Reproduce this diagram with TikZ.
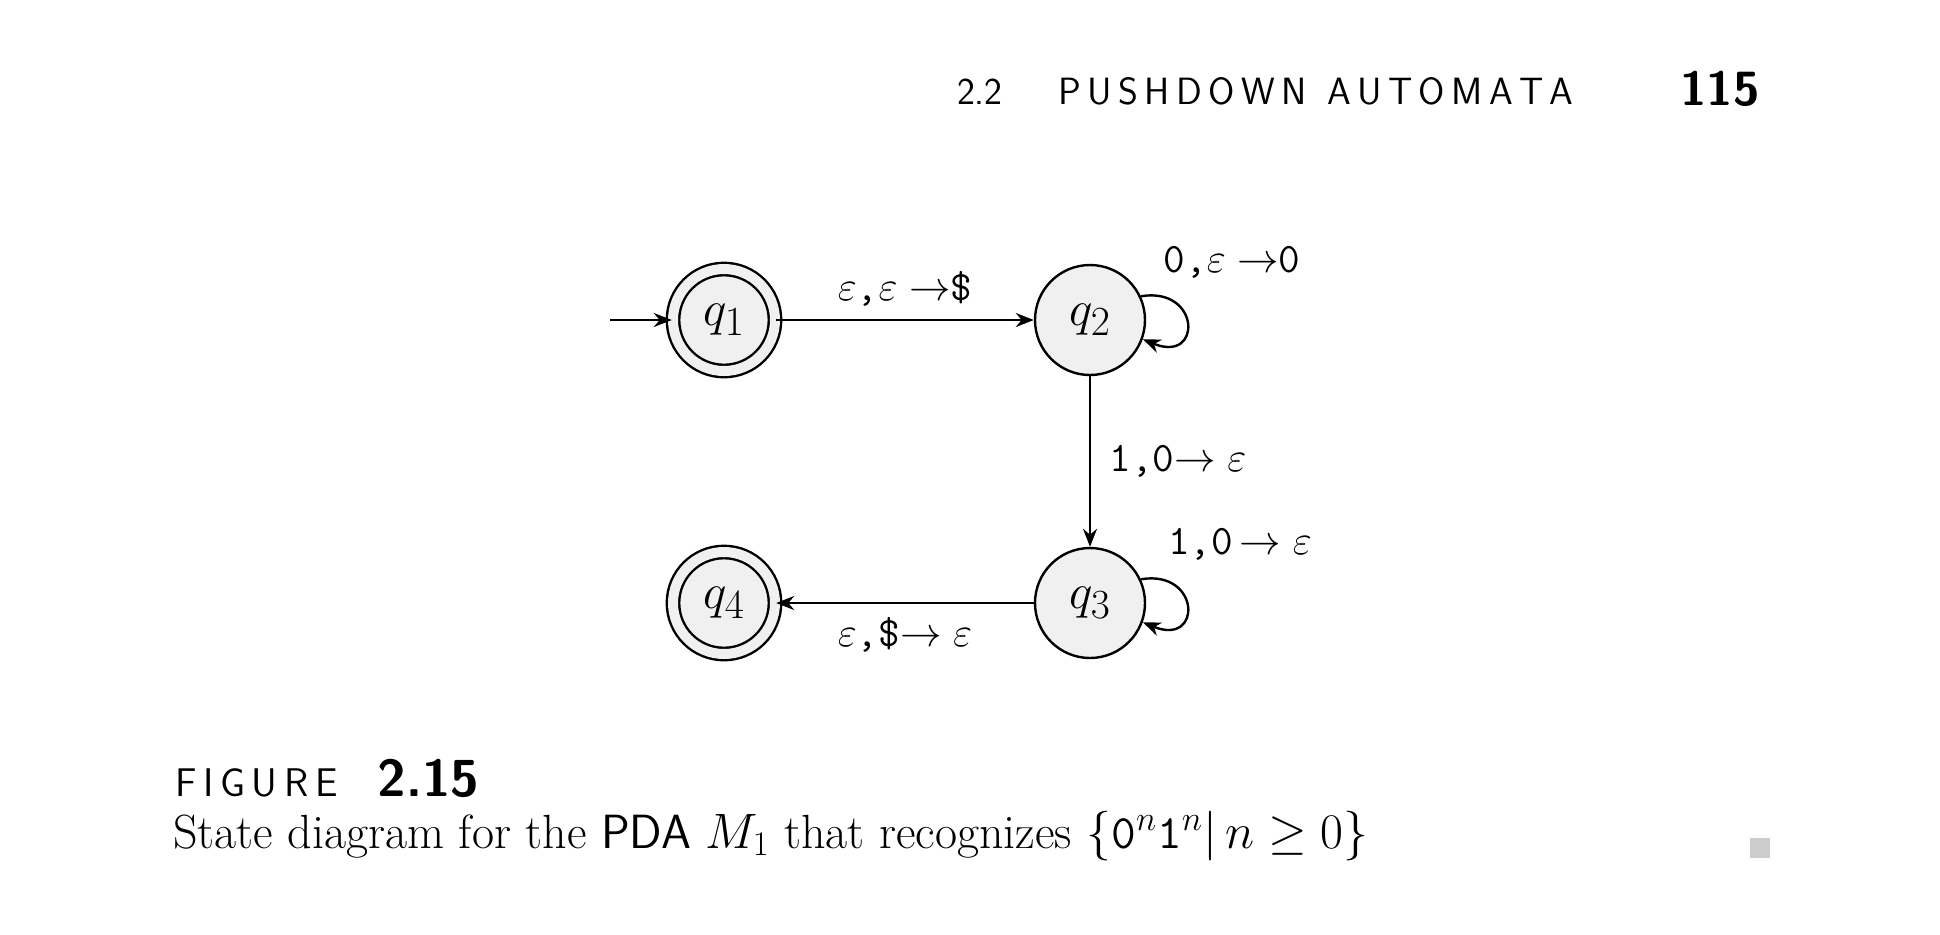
\documentclass[tikz,border=0pt]{standalone}
\usepackage{amssymb}
\usetikzlibrary{arrows.meta}
\begin{document}
\begin{tikzpicture}[x=0.5pt,y=-0.5pt,
  st/.style={circle,draw,line width=1.2pt,fill=black!6,minimum size=110*0.5pt,inner sep=0pt,font=\fontsize{28}{30}\selectfont},
  acc/.style={st,double=black!6,double distance=5pt,minimum size=102*0.5pt},
  ed/.style={-{Stealth[length=9pt,width=7pt]},line width=1.2pt},
  lb/.style={font=\fontsize{21}{23}\selectfont\ttfamily}]
\useasboundingbox (0,0) rectangle (1940,934);
\node[anchor=west,font=\fontsize{19}{21}\selectfont\sffamily] (h) at (950,91) {2.2\hspace{28pt}P\,U\,S\,H\,D\,O\,W\,N\;\;A\,U\,T\,O\,M\,A\,T\,A};
\node[font=\fontsize{24}{26}\selectfont\sffamily\bfseries] (pg) at (1720,89) {115};
\node[acc] (q1) at (724,320) {$q_1$};
\node[st] (q2) at (1090,320) {$q_2$};
\node[st] (q3) at (1090,603) {$q_3$};
\node[acc] (q4) at (724,603) {$q_4$};
\coordinate (s) at (610,320);
\draw[ed] (s) -- (q1);
\draw[ed] (q1) -- node[lb,above=3pt]{$\varepsilon$,$\varepsilon\rightarrow$\$} (q2);
\draw[ed,line width=0.9pt] (q2) -- node[lb,right=6pt]{1,0$\rightarrow\varepsilon$} (q3);
\draw[ed] (q3) -- node[lb,below=3pt]{$\varepsilon$,\$$\rightarrow\varepsilon$} (q4);
\draw[ed] (q2.25) .. controls +(60,-10) and +(60,25) .. (q2.-20);
\draw[ed] (q3.25) .. controls +(60,-10) and +(60,25) .. (q3.-20);
\node[lb] (l2) at (1232,262) {0,$\varepsilon\rightarrow$0};
\node[lb] (l3) at (1240,544) {1,0\,$\rightarrow\varepsilon$};
\node[anchor=west,font=\fontsize{20}{22}\selectfont\sffamily] (f) at (168,778) {F\,I\,G\,U\,R\,E\hspace{20pt}{\fontsize{26}{28}\selectfont\bfseries 2.15}};
\node[anchor=west,font=\fontsize{24}{26}\selectfont] (c) at (166,836) {State diagram for the \textsf{PDA} $M_1$ that recognizes $\{\texttt{0}^n\texttt{1}^n|\,n\geq 0\}$};
\fill[black!20] (1750,838) rectangle (1770,858);
\end{tikzpicture}
\end{document}
